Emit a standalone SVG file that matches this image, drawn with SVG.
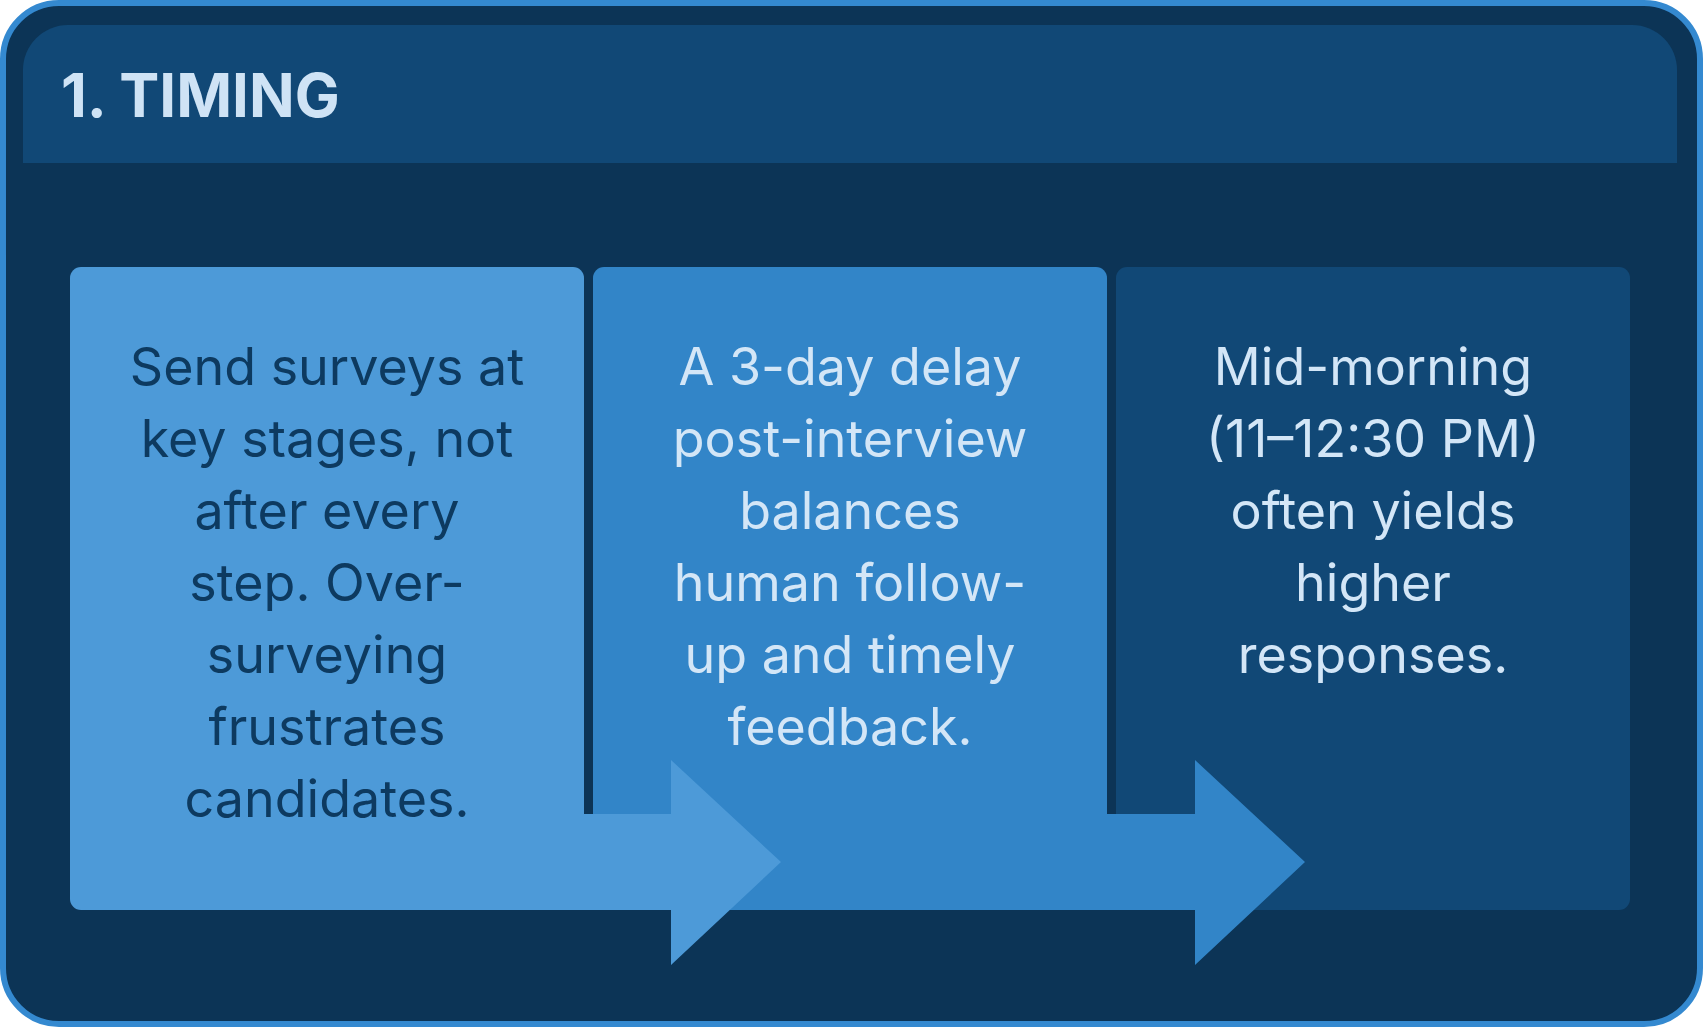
<svg xmlns="http://www.w3.org/2000/svg" width="1703" height="1028" viewBox="0 0 1703 1028">
<style>
.txt{font-family:Inter,"Noto Sans","Liberation Sans",sans-serif;font-size:52px;text-anchor:middle}
.dark{fill:#0d3a60}
.light{fill:#d3e6f7}
.title{font-family:Inter,"Noto Sans","Liberation Sans",sans-serif;font-size:60px;font-weight:700;fill:#cfe3f5}
</style>
<rect x="3" y="3" width="1697" height="1021" rx="56" fill="#0c3456" stroke="#3489d0" stroke-width="6"/>
<g id="header">
<path d="M23 163 V70 A45 45 0 0 1 68 25 H1632 A45 45 0 0 1 1677 70 V163 Z" fill="#114876"/>
<text class="title" x="61" y="117">1. TIMING</text>
</g>
<g id="node1">
<rect x="70" y="267" width="514" height="643" rx="11" fill="#4d9ad8"/>
</g>
<g id="node2">
<rect x="593" y="267" width="514" height="643" rx="11" fill="#3285c8"/>
</g>
<g id="node3">
<rect x="1116" y="267" width="514" height="643" rx="11" fill="#114876"/>
</g>
<g id="connectors">
<polygon points="570,814 671,814 671,760 781,862 671,965 671,910 570,910" fill="#4d9ad8"/>
<polygon points="1093,814 1195,814 1195,760 1305,862 1195,965 1195,910 1093,910" fill="#3285c8"/>
</g>
<g id="labels">
<text class="txt dark" x="327"><tspan x="327" y="385">Send surveys at</tspan><tspan x="327" y="457">key stages, not</tspan><tspan x="327" y="529">after every</tspan><tspan x="327" y="601">step. Over-</tspan><tspan x="327" y="673">surveying</tspan><tspan x="327" y="745">frustrates</tspan><tspan x="327" y="817">candidates.</tspan></text>
<text class="txt light" x="850"><tspan x="850" y="385">A 3-day delay</tspan><tspan x="850" y="457">post-interview</tspan><tspan x="850" y="529">balances</tspan><tspan x="850" y="601">human follow-</tspan><tspan x="850" y="673">up and timely</tspan><tspan x="850" y="745">feedback.</tspan></text>
<text class="txt light" x="1373"><tspan x="1373" y="385">Mid-morning</tspan><tspan x="1373" y="457">(11–12:30 PM)</tspan><tspan x="1373" y="529">often yields</tspan><tspan x="1373" y="601">higher</tspan><tspan x="1373" y="673">responses.</tspan></text>
</g>
</svg>
